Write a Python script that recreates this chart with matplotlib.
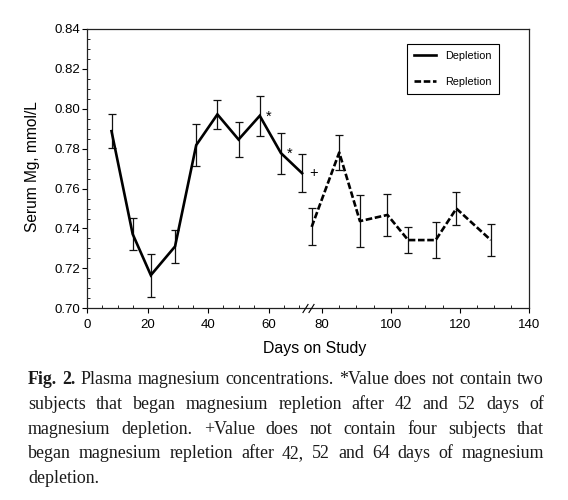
import numpy as np
import matplotlib
matplotlib.use("Agg")
import matplotlib.pyplot as plt
from matplotlib.ticker import FixedLocator, MultipleLocator, FormatStrFormatter
from matplotlib.transforms import ScaledTranslation

# ---------------- data ----------------
depl_days = [8, 15, 21, 29, 36, 43, 50, 57, 64, 71]
depl_mg = [0.7888, 0.7372, 0.7166, 0.7310, 0.7818, 0.7972, 0.7846, 0.7965, 0.7778, 0.7677]
depl_se = [0.0086, 0.0080, 0.0107, 0.0082, 0.0104, 0.0074, 0.0087, 0.0101, 0.0103, 0.0096]
depl_marks = ["", "", "", "", "", "", "", "*", "*", "+"]

repl_days = [77, 85, 91, 99, 105, 113, 119, 129]
repl_mg = [0.7408, 0.7781, 0.7437, 0.7468, 0.7342, 0.7342, 0.7500, 0.7342]
repl_se = [0.0093, 0.0087, 0.0130, 0.0105, 0.0064, 0.0092, 0.0083, 0.0080]

series_labels = ["Depletion", "Repletion"]
x_ticks = [0, 20, 40, 60, 80, 100, 120, 140]
y_ticks = [0.70, 0.72, 0.74, 0.76, 0.78, 0.80, 0.82, 0.84]
x_label = "Days on Study"
y_label = "Serum Mg, mmol/L"

caption_lines = [
    [("Fig.", "bold"), ("2.", "bold"), ("Plasma", "normal"), ("magnesium", "normal"),
     ("concentrations.", "normal"), ("*Value", "normal"), ("does", "normal"),
     ("not", "normal"), ("contain", "normal"), ("two", "normal")],
    [(w, "normal") for w in "subjects that began magnesium repletion after 42 and 52 days of".split()],
    [(w, "normal") for w in "magnesium depletion. +Value does not contain four subjects that".split()],
    [(w, "normal") for w in "began magnesium repletion after 42, 52 and 64 days of magnesium".split()],
    [(w, "normal") for w in "depletion.".split()],
]

# ---------------- broken x scale ----------------
XL, XR, GAP, K = 72.9, 75.9, 0.01, 3.45 / 3.03


def fwd(x):
    x = np.asarray(x, dtype=float)
    return np.where(x <= XL, x,
                    np.where(x >= XR, XL + GAP + (x - XR) * K,
                             XL + (x - XL) * GAP / (XR - XL)))


def inv(u):
    u = np.asarray(u, dtype=float)
    return np.where(u <= XL, u,
                    np.where(u >= XL + GAP, XR + (u - XL - GAP) / K,
                             XL + (u - XL) * (XR - XL) / GAP))


W, H = 568, 500
fig = plt.figure(figsize=(W / 100, H / 100), dpi=100)
fig.patch.set_facecolor("white")
ax = fig.add_axes([87.3 / W, 1 - 308.3 / H, (528.7 - 87.3) / W, (308.3 - 29) / H])
ax.set_xscale("function", functions=(fwd, inv))
ax.set_xlim(0, 140)
ax.set_ylim(0.70, 0.84)

sans = "Liberation Sans"
lw = 1.9
ax.errorbar(depl_days, depl_mg, yerr=depl_se, fmt="none", ecolor="#111111",
            elinewidth=0.9, capsize=2.8, capthick=0.9, zorder=2)
ax.errorbar(repl_days, repl_mg, yerr=repl_se, fmt="none", ecolor="#111111",
            elinewidth=0.9, capsize=2.8, capthick=0.9, zorder=2)
ax.plot(depl_days, depl_mg, color="black", lw=lw, solid_joinstyle="miter",
        label=series_labels[0], zorder=3)
ax.plot(repl_days, repl_mg, color="black", lw=lw, linestyle=(0, (2.5, 1.0)),
        label=series_labels[1], zorder=3)

offsets = {"*": (4.5, -0.5), "+": (5.0, 0.5)}
for d, v, m in zip(depl_days, depl_mg, depl_marks):
    if m:
        ax.annotate(m, (d, v), xytext=offsets[m], textcoords="offset points",
                    fontsize=10.5, fontfamily=sans, ha="left", va="center", color="black")

# ticks
ax.xaxis.set_major_locator(FixedLocator(x_ticks))
ax.xaxis.set_minor_locator(FixedLocator([v for v in range(5, 140, 5) if v not in x_ticks and v != 75]))
ax.yaxis.set_major_locator(FixedLocator(y_ticks))
ax.yaxis.set_minor_locator(MultipleLocator(0.005))
ax.yaxis.set_major_formatter(FormatStrFormatter("%.2f"))
ax.tick_params(which="major", direction="out", length=3.6, width=0.8, labelsize=9.5, pad=1.5)
ax.tick_params(axis="x", which="major", pad=4)
ax.tick_params(which="minor", direction="in", length=2, width=0.6)
for lab in ax.get_xticklabels() + ax.get_yticklabels():
    lab.set_fontfamily(sans)
for s in ax.spines.values():
    s.set_linewidth(0.9)
    s.set_color("#222222")

# break marks on x axis
for dx in (-2.2, 2.2):
    tr = ax.get_xaxis_transform() + ScaledTranslation(dx / 72, 0, fig.dpi_scale_trans)
    ax.plot([74.4], [0], marker=[(-1, -1.6), (1, 1.6)], ms=6.5, mec="black", mfc="none",
            mew=0.8, transform=tr, clip_on=False, zorder=5)

# legend
leg = ax.legend(loc="upper right", bbox_to_anchor=(0.9327, 0.9463),
                prop={"family": sans, "size": 7.8}, frameon=True, fancybox=False,
                edgecolor="black", framealpha=1, handlelength=2.0, handletextpad=0.9,
                labelspacing=1.45, borderpad=0.65, borderaxespad=0)
leg.get_frame().set_linewidth(0.8)

# axis labels
fig.text(315 / W, 1 - 349 / H, x_label, fontsize=11.4, fontfamily=sans, ha="center", va="center")
fig.text(33 / W, 1 - 167 / H, y_label, fontsize=11.2, fontfamily=sans, ha="center",
         va="center", rotation=90)

# caption, justified
serif = "Liberation Serif"
cap_size = 12.9
x0, x1 = 28, 544
renderer = fig.canvas.get_renderer()
t_sp = fig.text(0, 0, "a a", fontsize=cap_size, fontfamily=serif)
t_ns = fig.text(0, 0, "aa", fontsize=cap_size, fontfamily=serif)
space = t_sp.get_window_extent(renderer).width - t_ns.get_window_extent(renderer).width
t_sp.remove()
t_ns.remove()
for i, line in enumerate(caption_lines):
    ybase = 1 - (384 + i * 24.75) / H
    texts = []
    for word, weight in line:
        t = fig.text(0, ybase, word, fontsize=cap_size, fontfamily=serif, fontweight=weight,
                     color="#1a1a1a", va="baseline", ha="left")
        texts.append(t)
    widths = [t.get_window_extent(renderer).width for t in texts]
    if i < len(caption_lines) - 1 and len(texts) > 1:
        gap = (x1 - x0 - sum(widths)) / (len(texts) - 1)
    else:
        gap = space
    x = x0
    for t, w in zip(texts, widths):
        t.set_x(x / W)
        x += w + gap

fig.savefig("out.png", dpi=100)
